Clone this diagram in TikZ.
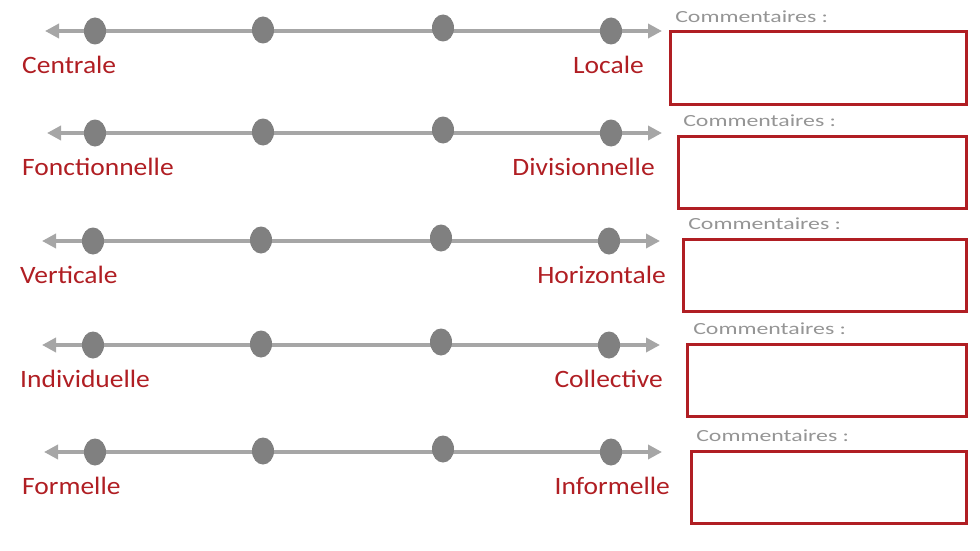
\documentclass[tikz,border=0pt]{standalone}
\usepackage{fontspec}
\setmainfont{Carlito}
\usetikzlibrary{arrows.meta,shapes.geometric}
\definecolor{dred}{HTML}{B01E23}
\definecolor{lgray}{HTML}{A6A6A6}
\definecolor{dgray}{HTML}{808080}
\begin{document}
\begin{tikzpicture}[x=1pt,y=-1pt,
  axis/.style={draw=lgray,line width=4.5pt,{Triangle[length=14pt,width=14pt]}-{Triangle[length=14pt,width=14pt]}},
  dot/.style={fill=dgray,ellipse,minimum width=22pt,minimum height=27pt,inner sep=0pt},
  lab/.style={text=dred,font=\fontsize{25}{27}\selectfont,inner sep=0pt,xscale=1.1},
  com/.style={text=lgray!90!black,font=\fontsize{17}{19}\selectfont,inner sep=0pt,anchor=west,xscale=1.4},
  cbox/.style={draw=dred,line width=3pt}]
\useasboundingbox (0,0) rectangle (980,551);
\foreach \i/\y/\xa/\xb/\d/\L/\R/\rx/\cx/\cy/\bx/\by in {
 1/31/45/662/0/Centrale/Locale/644/675/17/670/32,
 2/133/47/662/0/Fonctionnelle/Divisionnelle/655/683/121/678/136,
 3/241/42/660/-2/Verticale/Horizontale/666/688/224/683/239,
 4/345/42/660/-2/Individuelle/Collective/663/693/329/687/344,
 5/452/44/662/0/Formelle/Informelle/670/696/436/691/451}{
 \coordinate (a\i) at (\xa,\y);
 \coordinate (b\i) at (\xb,\y);
 \draw[axis] (a\i) -- (b\i);
 \node[dot] (d1\i) at (95+\d,\y) {};
 \node[dot] (d2\i) at (263+\d,\y-1) {};
 \node[dot] (d3\i) at (443+\d,\y-3) {};
 \node[dot] (d4\i) at (611+\d,\y) {};
 \node[lab,anchor=west] (l\i) at (22+\d,\y+34) {\L};
 \node[lab,anchor=east] (r\i) at (\rx,\y+34) {\R};
 \node[com] (c\i) at (\cx,\cy) {Commentaires :};
 \draw[cbox] (\bx,\by) rectangle (966,\by+72);
}
\end{tikzpicture}
\end{document}
